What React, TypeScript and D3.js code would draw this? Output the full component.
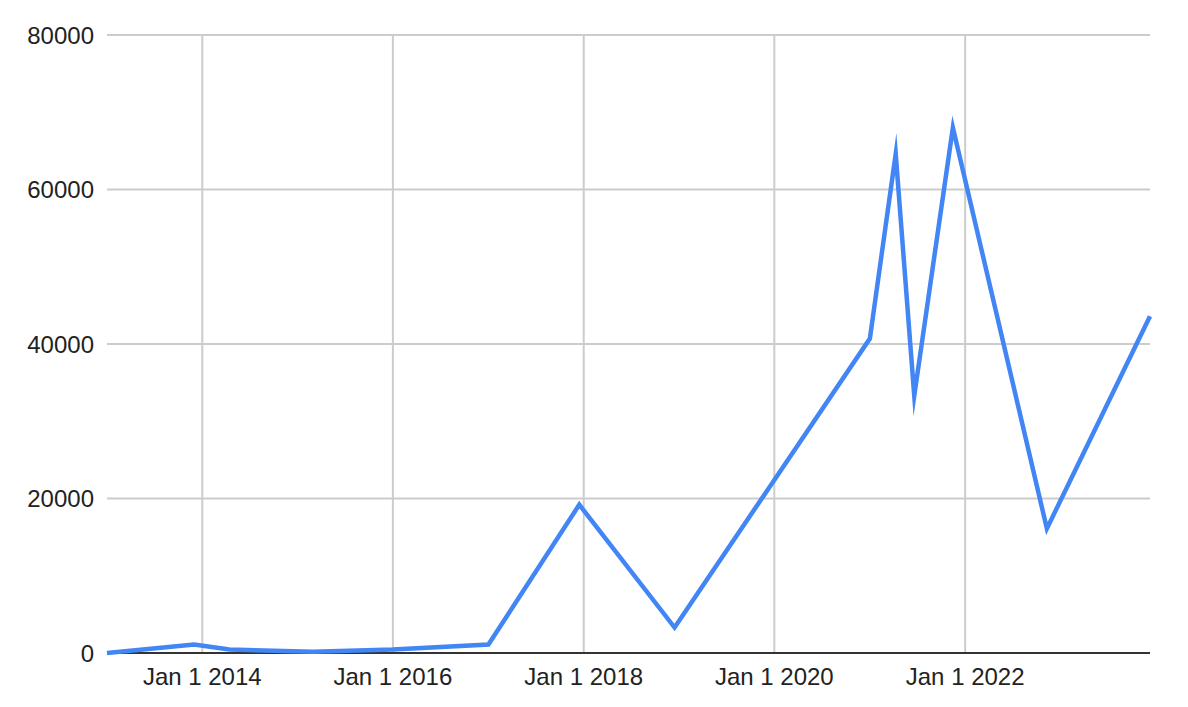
import React, { useEffect, useRef } from 'react';
import * as d3 from 'd3';

// --- Data ---
const pointDates = [
    '2013-01-01', '2013-12-01', '2014-04-15', '2015-03-01', '2016-01-01',
    '2017-01-01', '2017-12-15', '2018-12-15', '2021-01-01', '2021-04-10',
    '2021-06-20', '2021-11-15', '2022-11-10', '2023-12-10',
];
const pointValues = [
    0, 1100, 450, 150, 450,
    1100, 19200, 3300, 40700, 64600,
    33300, 68000, 16100, 43600,
];
const yTicks = [0, 20000, 40000, 60000, 80000];
const xTickDates = ['2014-01-01', '2016-01-01', '2018-01-01', '2020-01-01', '2022-01-01'];
const xTickLabels = ['Jan 1 2014', 'Jan 1 2016', 'Jan 1 2018', 'Jan 1 2020', 'Jan 1 2022'];
const xDomain = ['2013-01-01', '2023-12-10'];

const W = 1188;
const H = 707;
const FONT = 'Arial, "Liberation Sans", sans-serif';

const parse = d3.utcParse('%Y-%m-%d');

const drawChart = (container: HTMLDivElement) => {
    d3.select(container).selectAll('*').remove();

    const margin = { top: 35, right: 38, bottom: 54, left: 107 };
    const width = W - margin.left - margin.right;
    const height = H - margin.top - margin.bottom;

    const svgRoot = d3.select(container)
        .append('svg')
        .attr('width', W)
        .attr('height', H)
        .style('display', 'block')
        .style('background', '#fff');

    const svg = svgRoot.append('g')
        .attr('transform', `translate(${margin.left}, ${margin.top})`);

    const xScale = d3.scaleUtc()
        .domain(xDomain.map(d => parse(d) as Date))
        .range([0, width]);

    const yScale = d3.scaleLinear()
        .domain([0, 80000])
        .range([height, 0]);

    // --- Gridlines ---
    svg.selectAll('.hgrid')
        .data(yTicks.filter(t => t !== 0))
        .enter()
        .append('line')
        .attr('x1', 0)
        .attr('x2', width)
        .attr('y1', d => yScale(d))
        .attr('y2', d => yScale(d))
        .attr('stroke', '#cccccc')
        .attr('stroke-width', 2);

    svg.selectAll('.vgrid')
        .data(xTickDates)
        .enter()
        .append('line')
        .attr('x1', d => xScale(parse(d) as Date))
        .attr('x2', d => xScale(parse(d) as Date))
        .attr('y1', 0)
        .attr('y2', height)
        .attr('stroke', '#cccccc')
        .attr('stroke-width', 2);

    // --- Baseline ---
    svg.append('line')
        .attr('x1', 0)
        .attr('x2', width)
        .attr('y1', yScale(0))
        .attr('y2', yScale(0))
        .attr('stroke', '#333333')
        .attr('stroke-width', 2);

    // --- Y labels ---
    svg.selectAll('.ylabel')
        .data(yTicks)
        .enter()
        .append('text')
        .attr('x', -13)
        .attr('y', d => yScale(d))
        .attr('dy', '0.36em')
        .attr('text-anchor', 'end')
        .style('font-family', FONT)
        .style('font-size', '24px')
        .style('fill', '#222222')
        .text(d => String(d));

    // --- X labels ---
    svg.selectAll('.xlabel')
        .data(xTickDates)
        .enter()
        .append('text')
        .attr('x', d => xScale(parse(d) as Date))
        .attr('y', height + 32)
        .attr('text-anchor', 'middle')
        .style('font-family', FONT)
        .style('font-size', '24px')
        .style('fill', '#222222')
        .text((_d, i) => xTickLabels[i]);

    // --- Line ---
    const rows = pointDates.map((d, i) => ({ date: parse(d) as Date, value: pointValues[i] }));
    const line = d3.line<{ date: Date; value: number }>()
        .x(d => xScale(d.date))
        .y(d => yScale(d.value));

    svg.append('path')
        .datum(rows)
        .attr('d', line)
        .attr('fill', 'none')
        .attr('stroke', '#4285f4')
        .attr('stroke-width', 4.5)
        .attr('stroke-linejoin', 'miter')
        .attr('stroke-miterlimit', 12);
};

const App: React.FC = () => {
    const containerRef = useRef<HTMLDivElement | null>(null);

    useEffect(() => {
        document.body.style.margin = '0';
        const container = containerRef.current;
        if (!container) return;
        drawChart(container);
    }, []);

    return <div ref={containerRef} style={{ width: W, height: H }} />;
};

export default App;
